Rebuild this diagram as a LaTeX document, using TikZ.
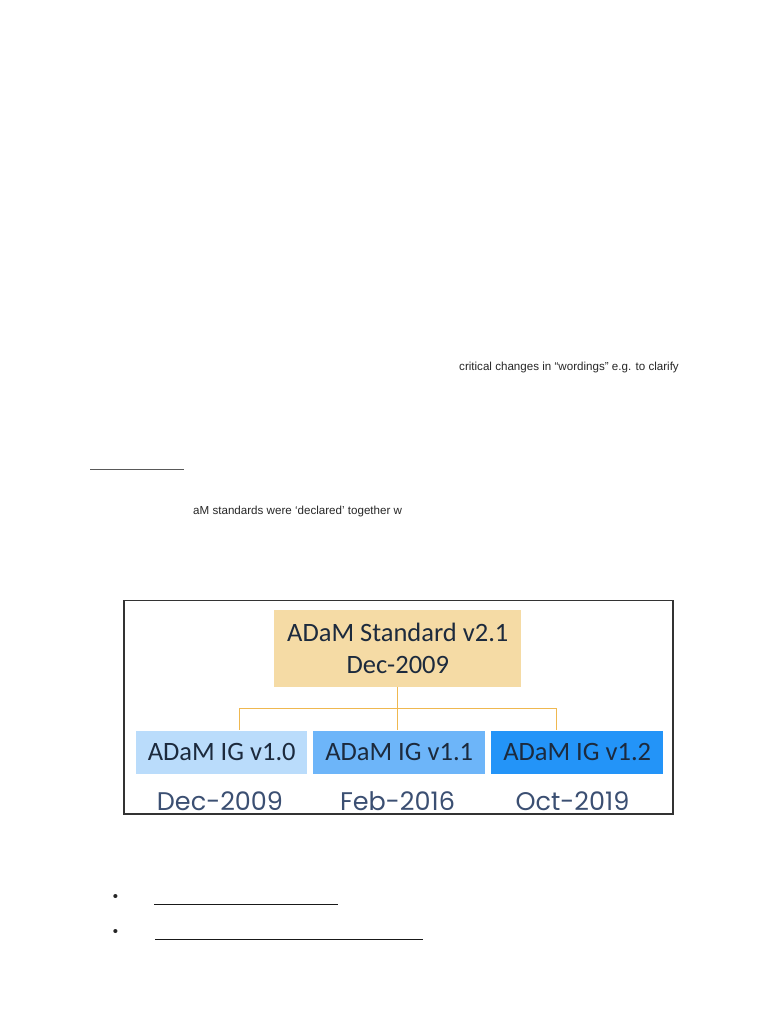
\documentclass[tikz,border=0pt]{standalone}
\usepackage{fontspec}
\setmainfont{Liberation Sans}
\newfontfamily\boxfont{Carlito}
\newfontfamily\datefont{Poppins}
\usepackage{tikz}
\definecolor{stdfill}{HTML}{F5DBA5}
\definecolor{igone}{HTML}{BADCFB}
\definecolor{igtwo}{HTML}{6DB5F9}
\definecolor{igthree}{HTML}{2394F8}
\definecolor{busline}{HTML}{EFB850}
\definecolor{boxtext}{HTML}{1C2A3D}
\definecolor{datetext}{HTML}{3B4F72}
\tikzset{
    stdbox/.style={fill=stdfill, inner sep=0pt, minimum width=247pt, minimum height=76.7pt,
        align=center, text=boxtext, font=\boxfont\fontsize{26.5}{32}\selectfont},
    igbox/.style={inner sep=0pt, minimum width=171.5pt, minimum height=43.3pt,
        text=boxtext, font=\boxfont\fontsize{26.5}{32}\selectfont},
    datelabel/.style={anchor=base, inner sep=0pt, text=datetext, font=\datefont\fontsize{25.5}{30}\selectfont},
    bodytext/.style={anchor=base west, inner sep=0pt, text=black!85, font=\fontsize{11.6}{14}\selectfont},
    bulletmark/.style={inner sep=0pt, text=black!85, font=\fontsize{15}{18}\selectfont},
    rule/.style={line width=1pt},
}

\begin{document}
\begin{tikzpicture}[x=1pt,y=-1pt]
\useasboundingbox (0,0) rectangle (768,1024);

% page text around the figure
\node[bodytext] (clarify) at (459,370.5) {critical changes in “wordings” e.g. to clarify};
\node[bodytext] (declared) at (193,514.5) {aM standards were ‘declared’ together w};
\draw[rule, black!65] (90,469) -- (184,469);

% figure frame
\draw[line width=1.2pt, black!80] (124,600.5) rectangle (673,814);

% boxes
\node[stdbox] (std) at (397.8,648.3) {ADaM Standard v2.1\\Dec-2009};
\node[igbox, fill=igone] (ig10) at (221.7,752.3) {ADaM IG v1.0};
\node[igbox, fill=igtwo] (ig11) at (399.2,752.3) {ADaM IG v1.1};
\node[igbox, fill=igthree] (ig12) at (577.2,752.3) {ADaM IG v1.2};

% connectors
\coordinate (busL) at (239,708.3);
\coordinate (busR) at (556,708.3);
\draw[busline, line width=1pt] (busL) -- (busR);
\draw[busline, line width=1pt] (busL) -- (busL |- ig10.north);
\draw[busline, line width=1pt] (busR) -- (busR |- ig12.north);
\draw[busline, line width=1pt] (std.south) -- (std.south |- ig11.north);

% release dates
\node[datelabel] (d10) at (220,810) {Dec-2009};
\node[datelabel] (d11) at (397.5,810) {Feb-2016};
\node[datelabel] (d12) at (572.5,810) {Oct-2019};

% bullets
\node[bulletmark] (b1) at (115.5,897.5) {•};
\node[bulletmark] (b2) at (115.5,932.5) {•};
\draw[rule, black!90] (154.3,904.3) -- (338.3,904.3);
\draw[rule, black!90] (155,939) -- (422.7,939);
\end{tikzpicture}
\end{document}
